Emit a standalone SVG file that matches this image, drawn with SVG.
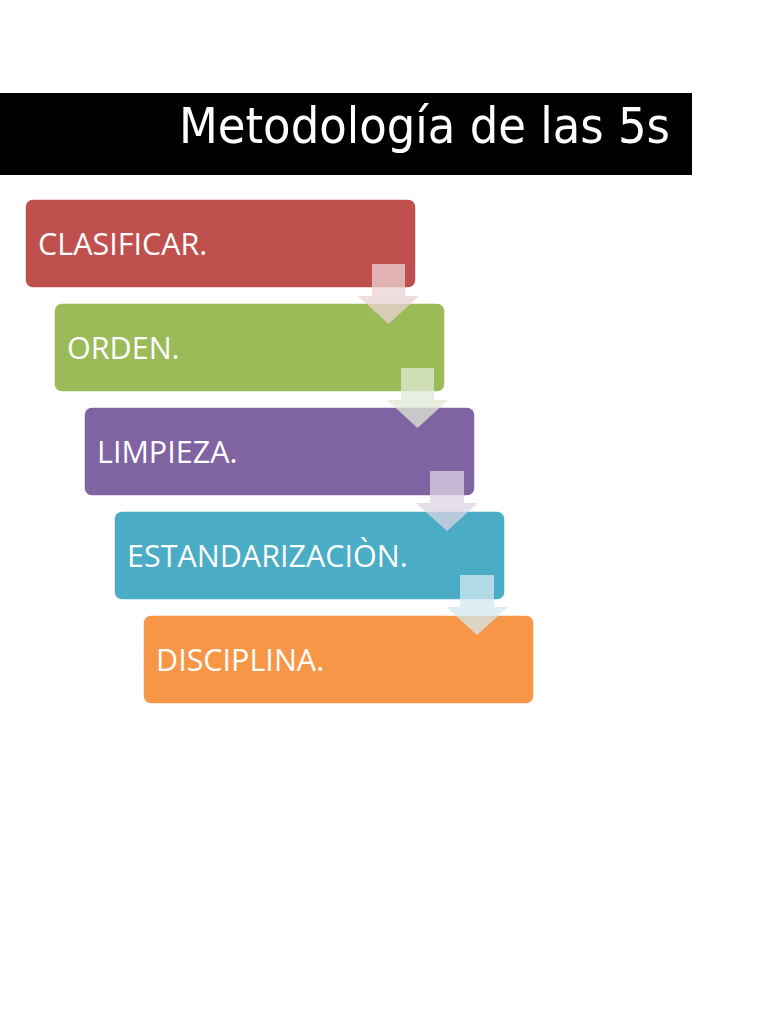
<svg xmlns="http://www.w3.org/2000/svg" width="768" height="1024" viewBox="0 0 768 1024">
<style>
.lbl{font-family:"Open Sans","Liberation Sans",sans-serif;font-size:30.5px;fill:#ffffff}
.box{stroke:#ffffff;stroke-width:1.5}
.arr{opacity:0.75}
</style>
<rect x="0" y="0" width="768" height="1024" fill="#ffffff"/>
<g id="title">
<rect x="0" y="93" width="692" height="82" fill="#000000"/>
<text x="670" y="143" text-anchor="end" font-family="DejaVu Sans Condensed, DejaVu Sans, sans-serif" font-stretch="condensed" font-size="50" fill="#ffffff">Metodología de las 5s</text>
</g>
<g id="n1"><rect class="box" x="25" y="199" width="391" height="89" rx="8" fill="#C0504D"/><text class="lbl" x="38" y="255">CLASIFICAR.</text></g>
<g id="n2"><rect class="box" x="54" y="303" width="391" height="89" rx="8" fill="#9BBB59"/><text class="lbl" x="67" y="359">ORDEN.</text></g>
<g id="n3"><rect class="box" x="84" y="407" width="391" height="89" rx="8" fill="#8064A2"/><text class="lbl" x="97" y="463">LIMPIEZA.</text></g>
<g id="n4"><rect class="box" x="114" y="511" width="391" height="89" rx="8" fill="#4BACC6"/><text class="lbl" x="127" y="567">ESTANDARIZACIÒN.</text></g>
<g id="n5"><rect class="box" x="143" y="615" width="391" height="89" rx="8" fill="#F79646"/><text class="lbl" x="156" y="671">DISCIPLINA.</text></g>
<g id="connectors">
<path class="arr" d="M372 264H405V296H419L388.5 324L358 296H372Z" fill="#EBD3D3"/>
<path class="arr" d="M401 368H434V400H448L417.5 428L387 400H401Z" fill="#E1EAD6"/>
<path class="arr" d="M430 471H464V503H478L447 531L416 503H430Z" fill="#DCD4E6"/>
<path class="arr" d="M460 575H494V607H508L477 635L446 607H460Z" fill="#D3EAF0"/>
</g>
</svg>
